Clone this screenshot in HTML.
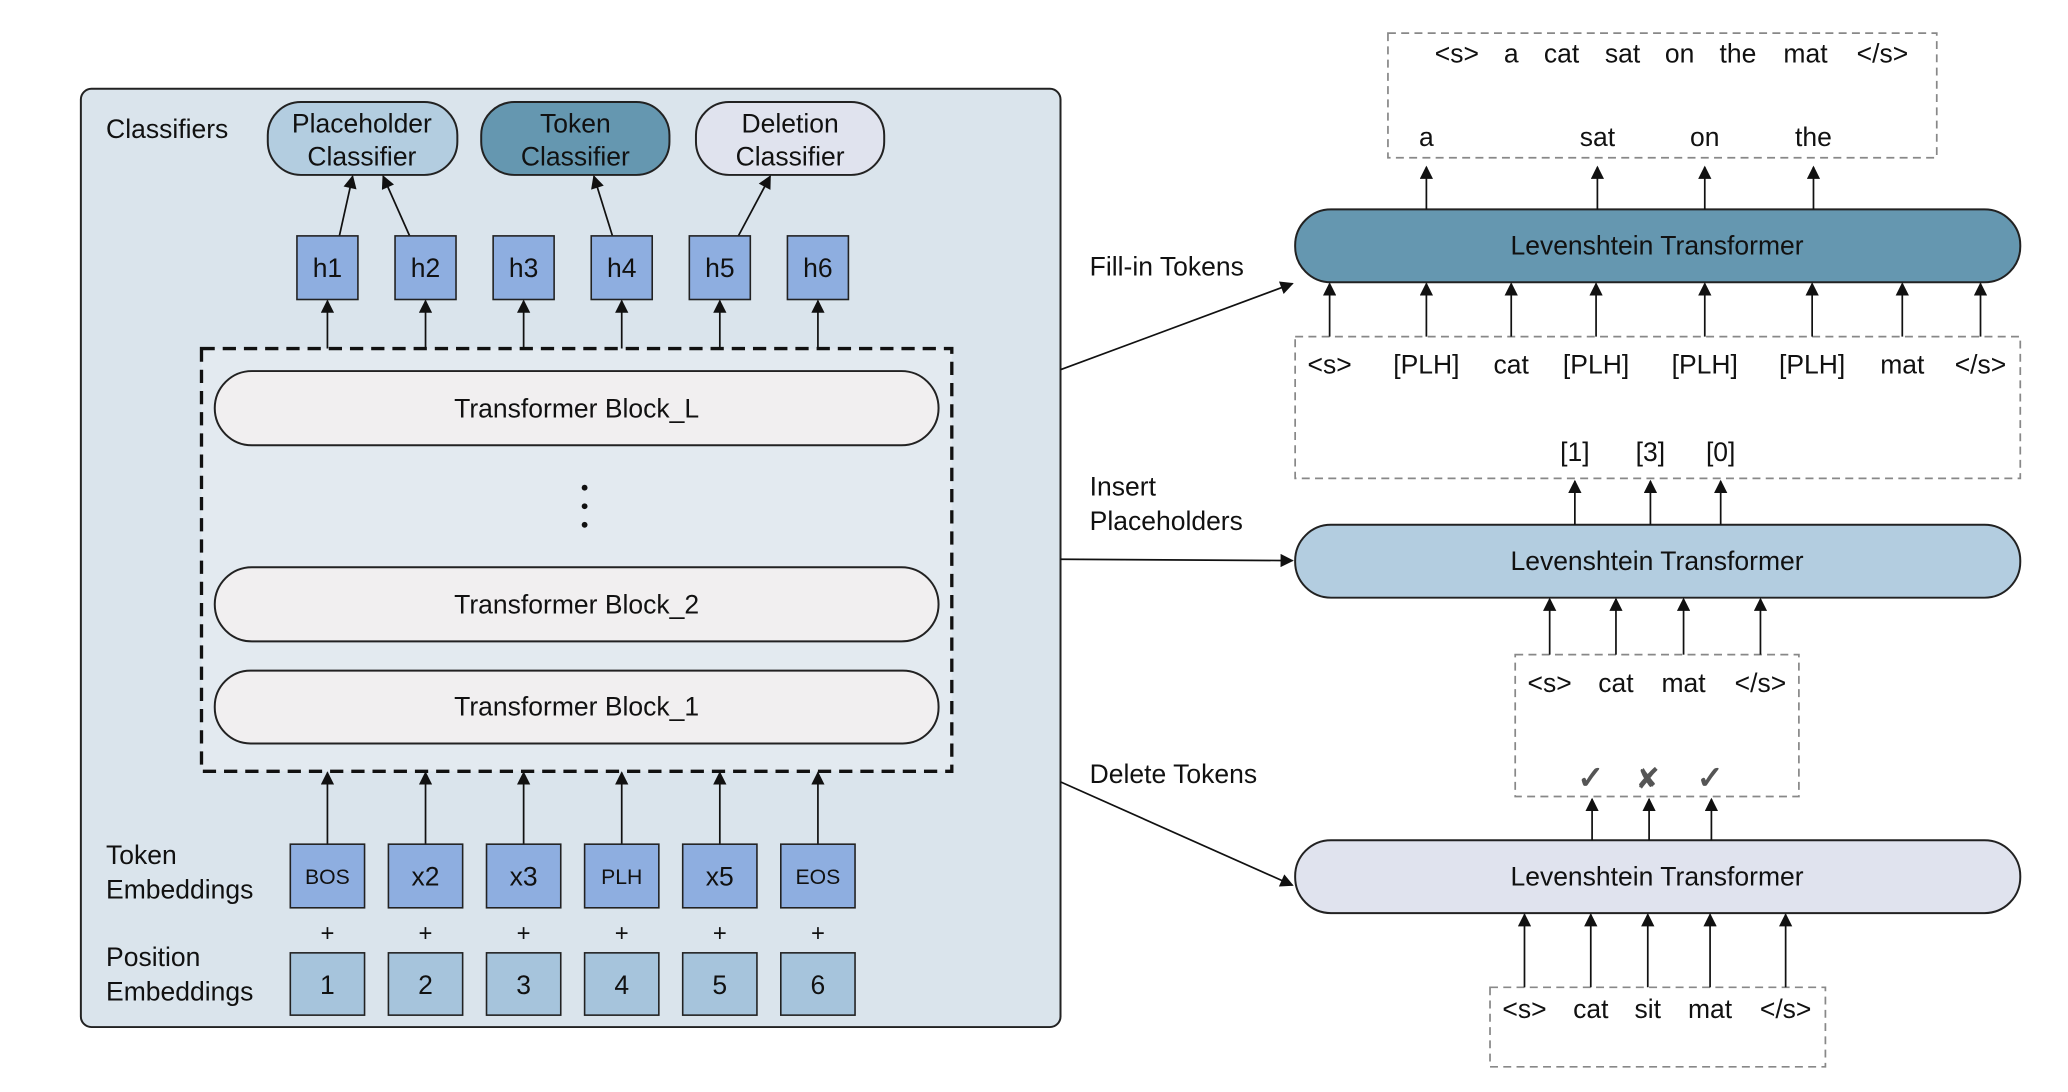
<!DOCTYPE html>
<html><head><meta charset="utf-8"><style>html,body{margin:0;padding:0;background:#fff}svg{display:block}text{font-family:"Liberation Sans",sans-serif;fill:#111}</style></head><body>
<svg width="2068" height="1092" viewBox="0 0 1560 824" preserveAspectRatio="none" xmlns="http://www.w3.org/2000/svg">
<defs><marker id="b" viewBox="0 0 10 10" refX="9" refY="5" markerWidth="14" markerHeight="10" orient="auto" markerUnits="userSpaceOnUse"><path d="M0,0L10,5L0,10z" fill="#111"/></marker></defs>
<rect x="61" y="67" width="739" height="708" rx="8" fill="#dae4ec" stroke="#222" stroke-width="1.5"/>
<text x="80" y="104" font-size="20">Classifiers</text>
<g stroke="#222" stroke-width="1.5">
<rect x="202" y="77" width="143" height="55" rx="25" fill="#b3cde0"/>
<rect x="363" y="77" width="142" height="55" rx="25" fill="#6597b0"/>
<rect x="525" y="77" width="142" height="55" rx="25" fill="#e0e3ee"/>
</g>
<g font-size="20" text-anchor="middle">
<text x="273" y="100">Placeholder</text><text x="273" y="125">Classifier</text>
<text x="434" y="100">Token</text><text x="434" y="125">Classifier</text>
<text x="596" y="100">Deletion</text><text x="596" y="125">Classifier</text>
</g>
<g stroke="#111" stroke-width="1.3" marker-end="url(#b)" fill="none">
<line x1="256" y1="178" x2="266" y2="133"/><line x1="309" y1="178" x2="289" y2="133"/>
<line x1="462" y1="178" x2="448" y2="133"/><line x1="557" y1="178" x2="581" y2="133"/>
</g>
<g stroke="#222" stroke-width="1.2" fill="#8eaee0">
<rect x="224" y="178" width="46" height="48"/><rect x="298" y="178" width="46" height="48"/><rect x="372" y="178" width="46" height="48"/><rect x="446" y="178" width="46" height="48"/><rect x="520" y="178" width="46" height="48"/><rect x="594" y="178" width="46" height="48"/>
</g>
<g font-size="20" text-anchor="middle">
<text x="247" y="209">h1</text><text x="321" y="209">h2</text><text x="395" y="209">h3</text><text x="469" y="209">h4</text><text x="543" y="209">h5</text><text x="617" y="209">h6</text>
</g>
<g stroke="#111" stroke-width="1.3" marker-end="url(#b)">
<line x1="247" y1="263" x2="247" y2="227"/><line x1="321" y1="263" x2="321" y2="227"/><line x1="395" y1="263" x2="395" y2="227"/><line x1="469" y1="263" x2="469" y2="227"/><line x1="543" y1="263" x2="543" y2="227"/><line x1="617" y1="263" x2="617" y2="227"/>
</g>
<rect x="152" y="263" width="566" height="319" fill="#e3eaf0" stroke="#111" stroke-width="2.5" stroke-dasharray="10 6"/>
<g stroke="#222" stroke-width="1.5" fill="#f1eff0">
<rect x="162" y="280" width="546" height="56" rx="28"/><rect x="162" y="428" width="546" height="56" rx="28"/><rect x="162" y="506" width="546" height="55" rx="27"/>
</g>
<g font-size="20" text-anchor="middle">
<text x="435" y="315">Transformer Block_L</text><text x="435" y="463">Transformer Block_2</text><text x="435" y="540">Transformer Block_1</text>
</g>
<g fill="#111"><circle cx="441" cy="368" r="2.2"/><circle cx="441" cy="382" r="2.2"/><circle cx="441" cy="396" r="2.2"/></g>
<g stroke="#111" stroke-width="1.3" marker-end="url(#b)">
<line x1="247" y1="637" x2="247" y2="583"/><line x1="321" y1="637" x2="321" y2="583"/><line x1="395" y1="637" x2="395" y2="583"/><line x1="469" y1="637" x2="469" y2="583"/><line x1="543" y1="637" x2="543" y2="583"/><line x1="617" y1="637" x2="617" y2="583"/>
</g>
<g stroke="#222" stroke-width="1.2" fill="#8eaee0">
<rect x="219" y="637" width="56" height="48"/><rect x="293" y="637" width="56" height="48"/><rect x="367" y="637" width="56" height="48"/><rect x="441" y="637" width="56" height="48"/><rect x="515" y="637" width="56" height="48"/><rect x="589" y="637" width="56" height="48"/>
</g>
<g stroke="#222" stroke-width="1.2" fill="#a6c4dc">
<rect x="219" y="719" width="56" height="47"/><rect x="293" y="719" width="56" height="47"/><rect x="367" y="719" width="56" height="47"/><rect x="441" y="719" width="56" height="47"/><rect x="515" y="719" width="56" height="47"/><rect x="589" y="719" width="56" height="47"/>
</g>
<g text-anchor="middle">
<text x="247" y="667" font-size="16">BOS</text><text x="321" y="668" font-size="20">x2</text><text x="395" y="668" font-size="20">x3</text><text x="469" y="667" font-size="16">PLH</text><text x="543" y="668" font-size="20">x5</text><text x="617" y="667" font-size="16">EOS</text>
<g font-size="18"><text x="247" y="710">+</text><text x="321" y="710">+</text><text x="395" y="710">+</text><text x="469" y="710">+</text><text x="543" y="710">+</text><text x="617" y="710">+</text></g>
<g font-size="20"><text x="247" y="750">1</text><text x="321" y="750">2</text><text x="395" y="750">3</text><text x="469" y="750">4</text><text x="543" y="750">5</text><text x="617" y="750">6</text></g>
</g>
<g font-size="20"><text x="80" y="652">Token</text><text x="80" y="678">Embeddings</text><text x="80" y="729">Position</text><text x="80" y="755">Embeddings</text></g>

<g fill="none" stroke="#888" stroke-width="1.3" stroke-dasharray="6 4">
<rect x="1047" y="25" width="414" height="94"/><rect x="977" y="254" width="547" height="107"/><rect x="1143" y="494" width="214" height="107"/><rect x="1124" y="745" width="253" height="60"/>
</g>
<g font-size="20" text-anchor="middle">
<text x="1099" y="47">&lt;s&gt;</text><text x="1140" y="47">a</text><text x="1178" y="47">cat</text><text x="1224" y="47">sat</text><text x="1267" y="47">on</text><text x="1311" y="47">the</text><text x="1362" y="47">mat</text><text x="1420" y="47">&lt;/s&gt;</text>
<text x="1076" y="110">a</text><text x="1205" y="110">sat</text><text x="1286" y="110">on</text><text x="1368" y="110">the</text>
<text x="1003" y="282">&lt;s&gt;</text><text x="1076" y="282">[PLH]</text><text x="1140" y="282">cat</text><text x="1204" y="282">[PLH]</text><text x="1286" y="282">[PLH]</text><text x="1367" y="282">[PLH]</text><text x="1435" y="282">mat</text><text x="1494" y="282">&lt;/s&gt;</text>
<text x="1188" y="348">[1]</text><text x="1245" y="348">[3]</text><text x="1298" y="348">[0]</text>
<text x="1169" y="522">&lt;s&gt;</text><text x="1219" y="522">cat</text><text x="1270" y="522">mat</text><text x="1328" y="522">&lt;/s&gt;</text>
<text x="1200" y="595" font-size="24" font-weight="bold" style="fill:#555">✓</text><text x="1243" y="595" font-size="22" style="fill:#555">✘</text><text x="1290" y="595" font-size="24" font-weight="bold" style="fill:#555">✓</text>
<text x="1150" y="768">&lt;s&gt;</text><text x="1200" y="768">cat</text><text x="1243" y="768">sit</text><text x="1290" y="768">mat</text><text x="1347" y="768">&lt;/s&gt;</text>
</g>
<g stroke="#222" stroke-width="1.5">
<rect x="977" y="158" width="547" height="55" rx="27" fill="#6597b0"/>
<rect x="977" y="396" width="547" height="55" rx="27" fill="#b3cde0"/>
<rect x="977" y="634" width="547" height="55" rx="27" fill="#e0e3ee"/>
</g>
<g font-size="20" text-anchor="middle"><text x="1250" y="192">Levenshtein Transformer</text><text x="1250" y="430">Levenshtein Transformer</text><text x="1250" y="668">Levenshtein Transformer</text></g>
<g stroke="#111" stroke-width="1.3" marker-end="url(#b)">
<line x1="1076" y1="158" x2="1076" y2="126"/><line x1="1205" y1="158" x2="1205" y2="126"/><line x1="1286" y1="158" x2="1286" y2="126"/><line x1="1368" y1="158" x2="1368" y2="126"/>
<line x1="1003" y1="254" x2="1003" y2="214"/><line x1="1076" y1="254" x2="1076" y2="214"/><line x1="1140" y1="254" x2="1140" y2="214"/><line x1="1204" y1="254" x2="1204" y2="214"/><line x1="1286" y1="254" x2="1286" y2="214"/><line x1="1367" y1="254" x2="1367" y2="214"/><line x1="1435" y1="254" x2="1435" y2="214"/><line x1="1494" y1="254" x2="1494" y2="214"/>
<line x1="1188" y1="396" x2="1188" y2="363"/><line x1="1245" y1="396" x2="1245" y2="363"/><line x1="1298" y1="396" x2="1298" y2="363"/>
<line x1="1169" y1="494" x2="1169" y2="452"/><line x1="1219" y1="494" x2="1219" y2="452"/><line x1="1270" y1="494" x2="1270" y2="452"/><line x1="1328" y1="494" x2="1328" y2="452"/>
<line x1="1201" y1="634" x2="1201" y2="603"/><line x1="1244" y1="634" x2="1244" y2="603"/><line x1="1291" y1="634" x2="1291" y2="603"/>
<line x1="1150" y1="745" x2="1150" y2="690"/><line x1="1200" y1="745" x2="1200" y2="690"/><line x1="1243" y1="745" x2="1243" y2="690"/><line x1="1290" y1="745" x2="1290" y2="690"/><line x1="1347" y1="745" x2="1347" y2="690"/>
<line x1="800" y1="279" x2="975" y2="214"/><line x1="800" y1="422" x2="975" y2="423"/><line x1="800" y1="590" x2="975" y2="668"/>
</g>
<g font-size="20"><text x="822" y="208">Fill-in Tokens</text><text x="822" y="374">Insert</text><text x="822" y="400">Placeholders</text><text x="822" y="591">Delete Tokens</text></g>
</svg>
</body></html>
